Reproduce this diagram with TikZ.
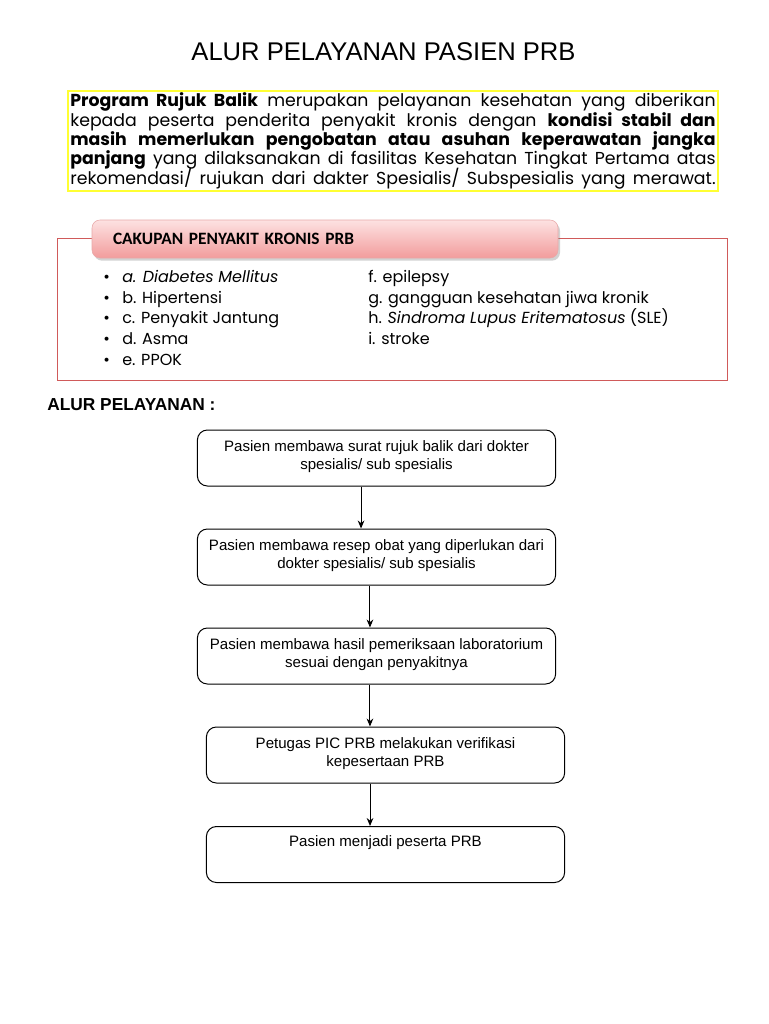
\documentclass[tikz,border=0pt]{standalone}
\usepackage{fontspec}
\usepackage{tikz}
\usetikzlibrary{arrows.meta, positioning, calc, shadows}
\setmainfont{Liberation Sans}
\newfontfamily\gothic{Poppins}
\newfontfamily\calibri{Carlito}
\definecolor{prbyellow}{HTML}{FFFF33}
\definecolor{prbred}{HTML}{D05A5A}
\definecolor{prbpinktop}{HTML}{FDE2E2}
\definecolor{prbpinkbot}{HTML}{F29C9C}
\definecolor{prbpinkline}{HTML}{E8A8A8}

\begin{document}
\begin{tikzpicture}[
    x=0.75pt, y=-0.75pt,
    >={Stealth[length=6pt, width=5pt]},
    intro/.style={rectangle, draw=prbyellow, line width=1.5pt, text width=484pt, align=justify, inner sep=1.5pt,
        font=\gothic\fontsize{13}{14.5}\selectfont},
    cakupan/.style={rectangle, draw=prbred, line width=0.6pt, minimum width=502.5pt, minimum height=106.5pt},
    judul/.style={rectangle, rounded corners=6pt, draw=prbpinkline, top color=prbpinktop, bottom color=prbpinkbot,
        drop shadow={opacity=0.35, shadow xshift=1.5pt, shadow yshift=-2pt},
        text width=318pt, inner xsep=15.75pt, minimum height=28.5pt, align=left,
        font=\calibri\bfseries\fontsize{13}{15}\selectfont},
    daftar/.style={anchor=north west, align=left, inner sep=0pt, font=\gothic\fontsize{12}{15.5}\selectfont},
    langkah/.style={rectangle, rounded corners=7.5pt, draw, line width=0.75pt, text width=262pt, align=flush center,
        minimum height=42pt, text depth=18pt, font=\fontsize{11.3}{13.5}\selectfont}
]
\useasboundingbox[fill=white] (0,0) rectangle (768,1024);

% Title
\node[font=\fontsize{19.2}{22}\selectfont] (title) at (383.5,52) {ALUR PELAYANAN PASIEN PRB};

% Definition box
\node[intro] (definisi) at (393,141) {\hyphenpenalty=10000\relax\parfillskip=0pt\relax\lineskiplimit=-50pt\relax
    \textbf{Program Rujuk Balik} merupakan pelayanan kesehatan yang diberikan\linebreak
    kepada peserta penderita penyakit kronis dengan \textbf{kondisi stabil dan\linebreak
    masih memerlukan pengobatan atau asuhan keperawatan jangka\linebreak
    panjang} yang dilaksanakan di fasilitas Kesehatan Tingkat Pertama atas\linebreak
    rekomendasi/ rujukan dari dakter Spesialis/ Subspesialis yang merawat.\par};

% Chronic disease list
\node[cakupan] (kronis) at (392,309) {};
\node[judul] (kronishead) at (325,239) {CAKUPAN PENYAKIT KRONIS PRB};
\node[daftar] (kolomkiri) at (103,270) {\lineskiplimit=-50pt\relax
    \makebox[14.25pt][l]{\textbullet}\textit{a. Diabetes Mellitus}\\
    \makebox[14.25pt][l]{\textbullet}b. Hipertensi\\
    \makebox[14.25pt][l]{\textbullet}c. Penyakit Jantung\\
    \makebox[14.25pt][l]{\textbullet}d. Asma\\
    \makebox[14.25pt][l]{\textbullet}e. PPOK};
\node[daftar] (kolomkanan) at (368,270) {\lineskiplimit=-50pt\relax
    f. epilepsy\\
    g. gangguan kesehatan jiwa kronik\\
    h. \textit{Sindroma Lupus Eritematosus} (SLE)\\
    i. stroke};

% Service flow
\node[font=\bfseries\fontsize{13}{15}\selectfont, anchor=west, inner sep=0pt] (alur) at (47,405) {ALUR PELAYANAN :};

\node[langkah] (langkah1) at (376.5,458) {Pasien membawa surat rujuk balik dari dokter\\spesialis/ sub spesialis};
\node[langkah] (langkah2) at (376.5,557) {Pasien membawa resep obat yang diperlukan dari\\dokter spesialis/ sub spesialis};
\node[langkah] (langkah3) at (376.5,656) {Pasien membawa hasil pemeriksaan laboratorium\\sesuai dengan penyakitnya};
\node[langkah] (langkah4) at (385.5,755) {Petugas PIC PRB melakukan verifikasi\\kepesertaan PRB};
\node[langkah, text depth=20pt] (langkah5) at (385.5,854.5) {Pasien menjadi peserta PRB};

% Connections
\draw[->, line width=0.75pt] ([xshift=-11.6pt]langkah1.south) -- ([xshift=-11.6pt]langkah2.north);
\draw[->, line width=0.75pt] ([xshift=-4.9pt]langkah2.south) -- ([xshift=-4.9pt]langkah3.north);
\draw[->, line width=0.75pt] ([xshift=-4.9pt]langkah3.south) -- ([xshift=-4.9pt]langkah3.south |- langkah4.north);
\draw[->, line width=0.75pt] ([xshift=-11.6pt]langkah4.south) -- ([xshift=-11.6pt]langkah5.north);

\end{tikzpicture}
\end{document}
